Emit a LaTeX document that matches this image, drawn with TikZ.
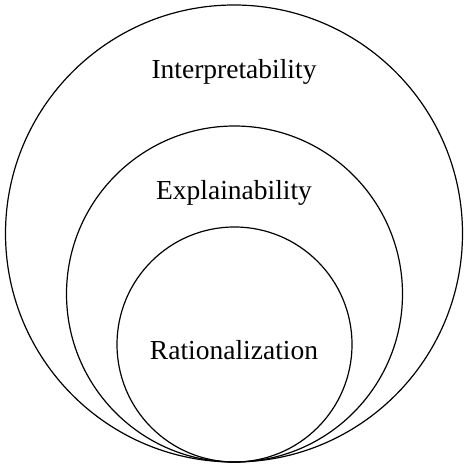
\documentclass[tikz,border=0pt]{standalone}
\usepackage{fontspec}
\setmainfont{Liberation Serif}
\begin{document}
\begin{tikzpicture}[x=1pt,y=1pt,
  ring/.style={draw=black,line width=1.2pt},
  lbl/.style={anchor=base,inner sep=0pt,font=\fontsize{27.5}{30}\selectfont}]
\useasboundingbox (0,0) rectangle (468,468);
\fill[white] (0,0) rectangle (468,468);
\node[ring,circle,minimum size=457pt,inner sep=0pt] (outer) at (234,234.5) {};
\node[ring,circle,minimum size=336pt,inner sep=0pt] (middle) at (234.5,174) {};
\node[ring,circle,minimum size=235pt,inner sep=0pt] (inner) at (234.5,123.5) {};
\node[lbl] (interp) at (234,389.7) {Interpretability};
\node[lbl] (expl) at (234,268) {Explainability};
\node[lbl] (rat) at (234,108) {Rationalization};
\end{tikzpicture}
\end{document}
